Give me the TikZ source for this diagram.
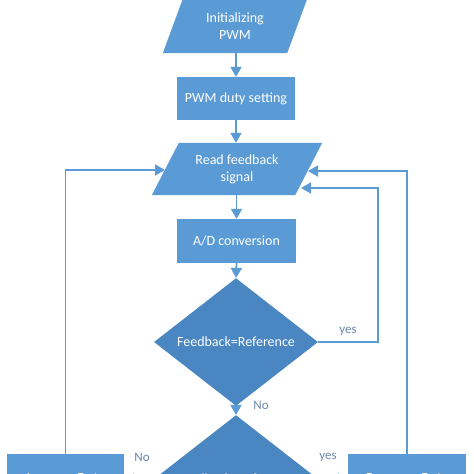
\documentclass[tikz,border=0pt]{standalone}
\usepackage{fontspec}
\setmainfont{Carlito}
\usetikzlibrary{shapes.geometric,arrows.meta,backgrounds}
\definecolor{boxblue}{HTML}{5B9BD5}
\definecolor{diablue}{HTML}{4A86C2}
\definecolor{lblcol}{HTML}{6A87AE}
\begin{document}
\begin{tikzpicture}[x=1pt,y=-1pt,
  every node/.style={font=\fontsize{14}{17}\selectfont, text=white, align=center},
  procbox/.style={rectangle, fill=boxblue, inner sep=0pt},
  parabox/.style={rectangle, inner sep=0pt},
  decision/.style={diamond, fill=diablue, inner sep=0pt, minimum width=164pt, minimum height=112pt},
  conn/.style={draw=boxblue, line width=1.8pt, -{Triangle[length=10pt,width=11pt]}},
  lbl/.style={font=\fontsize{13}{15}\selectfont, text=lblcol}]
\useasboundingbox (0,0) rectangle (474,474);
\clip (0,0) rectangle (474,474);
% nodes
\node[parabox, minimum width=144pt, minimum height=54pt] (init) at (235,26) {Initializing\\PWM};
\node[procbox, minimum width=118pt, minimum height=43pt] (duty) at (236,98.5) {PWM duty setting};
\node[parabox, minimum width=170pt, minimum height=52pt] (read) at (237,169) {Read feedback\\signal};
\node[procbox, minimum width=119pt, minimum height=44pt] (ad) at (236.5,241) {A/D conversion};
\node[decision] (d1) at (236,342) {Feedback=Reference};
\node[decision, minimum height=116pt] (d2) at (236,479) {Feedback>Reference};
\node[procbox, minimum width=117pt, minimum height=50pt] (inc) at (65.5,479) {Increase Duty};
\node[procbox, minimum width=118pt, minimum height=50pt] (dec) at (407,479) {Decrease Duty};
% parallelogram bodies
\begin{scope}[on background layer]
\fill[boxblue] ([xshift=20pt]init.north west) -- (init.north east) -- ([xshift=-20pt]init.south east) -- (init.south west) -- cycle;
\fill[boxblue] ([xshift=27pt]read.north west) -- (read.north east) -- ([xshift=-27pt]read.south east) -- (read.south west) -- cycle;
\end{scope}
% labels
\node[lbl] (lno1) at (261,405) {No};
\node[lbl] (lyes1) at (348,331) {yes};
\node[lbl] (lno2) at (142,457) {No};
\node[lbl] (lyes2) at (328,457) {yes};
% helper coordinates
\coordinate (rinL) at (165,170);
\coordinate (rinR1) at (308,171);
\coordinate (rinR2) at (301,188);
\coordinate (rturn) at (378,188);
% connectors
\draw[conn] (duty.north |- init.south) -- (duty.north);
\draw[conn] (duty.south) -- (duty.south |- read.north);
\draw[conn] (ad.north |- read.south) -- (ad.north);
\draw[conn] (ad.south) -- (d1.north);
\draw[conn] (d1.south) -- (d2.north);
\draw[conn] (d1.east) -| (rturn) -- (rinR2);
\draw[conn] (inc.north) |- (rinL);
\draw[conn] (dec.north) |- (rinR1);
\draw[conn] (d2.west) -- (inc.east);
\draw[conn] (d2.east) -- (dec.west);
\end{tikzpicture}
\end{document}
